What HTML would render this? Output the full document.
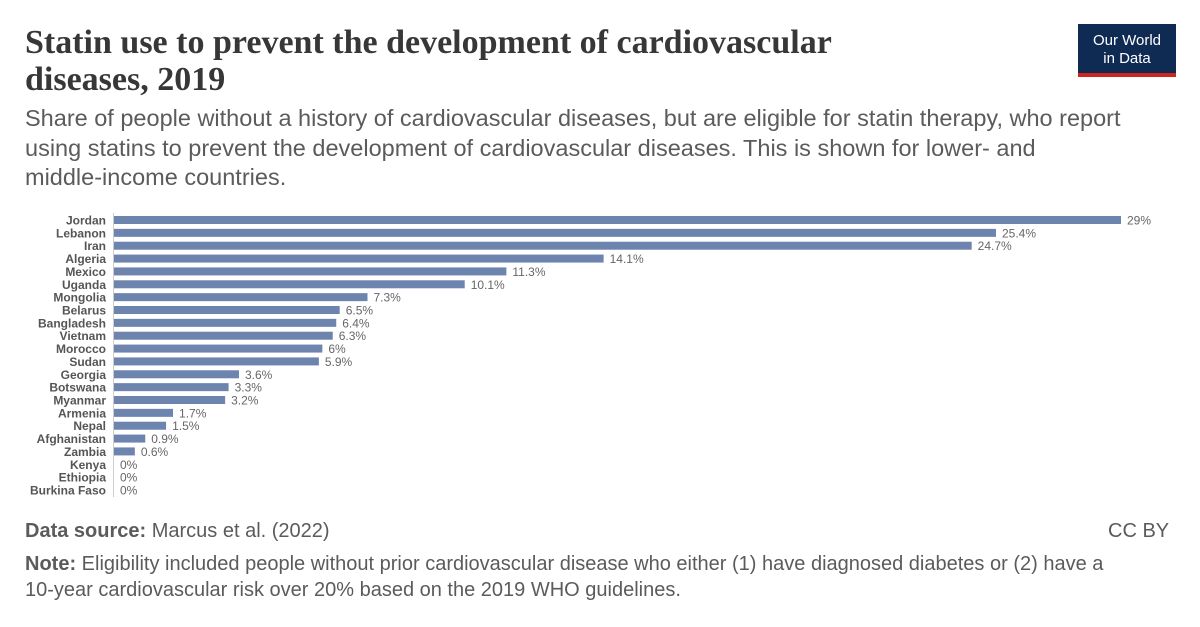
<!DOCTYPE html>
<html><head><meta charset="utf-8"><style>
body{margin:0;width:1200px;height:627px;background:#fff;font-family:"Liberation Sans",sans-serif;position:relative;overflow:hidden}
.t{position:absolute;left:25px;top:24px;font-family:"Liberation Serif",serif;font-weight:bold;font-size:34px;line-height:37px;color:#373737;width:840px}
.sub{position:absolute;left:25px;top:104px;font-size:23.5px;line-height:29.5px;color:#5b5b5b;width:1120px}
.logo{position:absolute;left:1078px;top:24px;width:98px;height:53px;background:#0f2a53;color:#fff;font-size:15px;line-height:18px;text-align:center;box-sizing:border-box;padding-top:8px}
.logo:after{content:"";position:absolute;left:0;right:0;bottom:0;height:4px;background:#ce261e}
.foot{position:absolute;left:25px;font-size:20px;color:#5b5b5b;line-height:26px}
.nw{white-space:nowrap}
</style></head><body>
<div class="t">Statin use to prevent the development of cardiovascular diseases, 2019</div>
<div class="logo">Our World<br>in Data</div>
<div class="sub">Share of people without a history of cardiovascular diseases, but are eligible for statin therapy, who report using statins to prevent the development of cardiovascular diseases. This is shown for lower- and <span class="nw">middle-income</span> countries.</div>
<svg id="c" width="1200" height="627" style="position:absolute;left:0;top:0"></svg>
<div class="foot" style="top:518px"><b>Data source:</b> Marcus et al. (2022)</div>
<div class="foot" style="top:518px;left:1108px">CC BY</div>
<div class="foot" style="top:551px;width:1150px"><b>Note:</b> Eligibility included people without prior cardiovascular disease who either (1) have diagnosed diabetes or (2) have a <span class="nw">10-year</span> cardiovascular risk over 20% based on the 2019 WHO guidelines.</div>
<script>
const countries=["Jordan","Lebanon","Iran","Algeria","Mexico","Uganda","Mongolia","Belarus","Bangladesh","Vietnam","Morocco","Sudan","Georgia","Botswana","Myanmar","Armenia","Nepal","Afghanistan","Zambia","Kenya","Ethiopia","Burkina Faso"];
const values=[29,25.4,24.7,14.1,11.3,10.1,7.3,6.5,6.4,6.3,6,5.9,3.6,3.3,3.2,1.7,1.5,0.9,0.6,0,0,0];
const labels=["29%","25.4%","24.7%","14.1%","11.3%","10.1%","7.3%","6.5%","6.4%","6.3%","6%","5.9%","3.6%","3.3%","3.2%","1.7%","1.5%","0.9%","0.6%","0%","0%","0%"];
const svg=document.getElementById('c'),NS='http://www.w3.org/2000/svg';
const x=v=>114+v*(1121-114)/29;
const y=i=>220+i*(490-220)/(countries.length-1);
function mk(t,a){const e=document.createElementNS(NS,t);for(const k in a)e.setAttribute(k,a[k]);svg.appendChild(e);return e;}
const ax=mk('line',{x1:113.5,x2:113.5,y1:y(0)-7,y2:y(countries.length-1)+7,stroke:'#ccc'});


countries.forEach((c,i)=>{
 const l=mk('text',{x:106,y:y(i)+4.5,'text-anchor':'end','font-size':12,'font-weight':'bold',fill:'#555','font-family':'Liberation Sans, sans-serif'});l.textContent=c;
 
 
 const b=mk('rect',{x:x(0),y:y(i)-4,width:Math.max(0,x(values[i])-x(0)),height:8,fill:'#6d84ae'});
 
 
 const v=mk('text',{x:x(values[i])+6,y:y(i)+4.5,'font-size':12,fill:'#666','font-family':'Liberation Sans, sans-serif'});v.textContent=labels[i];
 
 
});
</script>
</body></html>
